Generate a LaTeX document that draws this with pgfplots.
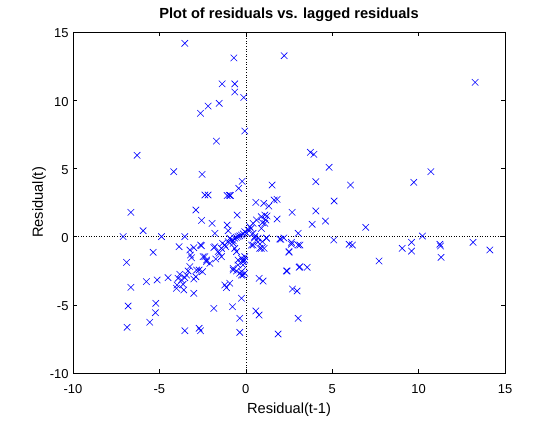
\documentclass[border=0pt]{standalone}
\usepackage{pgfplots}
\pgfplotsset{compat=1.18}
\usepackage{fontspec}
\setmainfont{Liberation Sans}
\begin{document}
\begin{tikzpicture}[x=1bp,y=1bp]
\useasboundingbox (0,0) rectangle (560,420);
\begin{axis}[
  at={(73bp,47bp)}, anchor=south west,
  scale only axis, width=432bp, height=341bp,
  xmin=-10, xmax=15, ymin=-10, ymax=15,
  xtick={-10,-5,0,5,10,15}, ytick={-10,-5,0,5,10,15},
  tick align=inside, major tick length=4bp,
  xtick pos=both, ytick pos=both,
  axis line style={line width=0.6pt},
  every tick/.style={black, line width=0.5pt},
  /pgf/number format/assume math mode=true,
  ticklabel style={font=\fontsize{13}{15}\selectfont},
  xticklabel style={anchor=base, yshift=-20.5bp},
  yticklabel style={xshift=-1bp, yshift=-1.5bp},
  title={\fontsize{14.7}{17}\selectfont\bfseries Plot of residuals vs. lagged residuals},
  title style={at={([yshift=8bp]axis description cs:0.5,1)}, anchor=base},
  xlabel={\fontsize{14.7}{17}\selectfont Residual(t-1)},
  ylabel={\fontsize{14.7}{17}\selectfont Residual(t)},
  xlabel style={at={([yshift=-40bp]axis description cs:0.5,0)}, anchor=base},
  ylabel style={at={([xshift=-34bp]axis description cs:0,0.5)}, anchor=center},
]
\addplot[black, dotted, line width=0.6pt] coordinates {(0,-10) (0,15)};
\addplot[black, dotted, line width=0.6pt] coordinates {(-10,0) (15,0)};
\addplot[only marks, mark=x, mark size=4.6bp, color=blue, mark options={line width=0.6pt}] table {
x y
-3.53 14.17
-0.69 13.1
-1.37 11.2
-0.64 11.2
-0.64 10.6
-0.12 10.2
-1.54 9.77
-2.18 9.57
-2.62 9.04
-0.06 7.74
-1.70 7.0
2.22 13.26
13.27 11.31
-6.29 5.96
-4.17 4.76
-2.53 4.56
-0.21 4.05
-0.41 3.54
-2.37 3.05
-2.18 3.05
-1.08 3.01
-0.95 3.03
-0.89 3.01
-6.65 1.78
-2.89 1.95
-2.56 1.19
-1.95 0.97
-0.5 1.58
-1.08 0.85
-1.02 0.43
-5.94 0.43
-1.79 0.24
-7.1 0
-4.88 0
-3.53 0
3.74 6.18
3.94 6.03
4.82 5.08
10.71 4.76
9.72 3.98
1.52 3.78
4.05 4.03
6.06 3.78
5.11 2.61
0.58 2.51
1.04 2.44
1.33 2.24
1.64 2.68
1.81 2.73
2.68 1.78
4.05 1.88
4.61 1.14
3.84 0.9
1.81 1.29
1.23 1.51
1.16 1.22
0.96 1.02
6.94 0.68
3.03 0.24
10.22 0.04
-2.62 -0.62
-1.79 -0.74
-2.47 -1.47
-2.27 -1.72
-2.85 -2.45
2.03 -0.2
2.2 -0.1
2.5 -1.1
2.64 -0.56
3.13 -0.62
2.35 -2.52
3.13 -2.2
1.2 -0.1
1.06 -0.86
0.96 -0.37
0.42 -0.62
0.81 -0.86
-0.06 -1.47
-0.06 -1.72
-0.16 -2.08
-0.45 -1.72
-0.73 -2.45
-0.54 -2.52
-0.25 -2.57
-0.06 -2.69
-1.6 -1.1
-1.41 -0.86
-1.22 -0.62
-1.02 -0.37
-0.83 -0.25
-0.64 -0.12
-0.45 0
-0.25 0.12
-0.06 0.36
0.13 0.48
0.23 0.73
0.42 0.97
0.62 1.22
0.9 1.46
1.1 1.58
-0.92 -0.12
-0.73 -0.3
-0.55 -0.05
-0.35 0.05
-0.15 0.2
0.05 0.25
0.3 0.6
0.52 0
0.71 -0.12
0.42 0.24
0.9 0.6
1.1 0.97
-0.45 -2.08
-5.36 -1.15
-6.9 -1.89
-3.86 -0.74
-3.24 -0.98
-3.01 -0.81
-2.56 -0.67
-3.2 -1.35
-3.14 -1.55
-1.85 -0.81
-1.35 -0.49
-1.16 -0.74
-1.55 -1.22
-1.41 -1.47
-2.37 -1.47
-2.27 -1.84
-2.08 -1.96
-1.74 -1.64
-0.73 -0.49
-0.64 -0.86
-0.54 -1.1
-0.25 -1.59
-0.16 -1.84
-0.73 -2.33
-0.35 -2.69
-0.16 -2.82
-3.24 -2.2
-2.7 -2.45
-2.51 -2.57
-3.34 -2.52
-3.43 -2.82
-3.53 -3.01
-3.82 -2.76
-3.92 -3.06
-3.72 -3.18
-2.89 -2.94
-3.01 -3.11
-3.98 -3.55
-3.63 -3.5
-4.01 -3.79
-3.59 -3.91
-4.5 -3.01
-5.13 -3.18
-5.75 -3.3
-6.65 -3.72
-3.01 -4.16
-1.22 -3.55
-1.12 -3.74
-0.93 -3.42
-0.25 -4.52
-1.85 -5.26
-0.77 -5.14
-0.35 -5.99
-6.81 -5.09
-5.21 -4.89
-5.23 -5.58
-5.56 -6.28
-6.87 -6.65
-3.53 -6.9
-2.7 -6.72
-2.62 -6.9
-0.35 -7.02
1.97 -0.18
2.64 -0.42
3.03 -0.62
2.5 -1.15
5.09 -0.25
5.98 -0.56
6.17 -0.62
7.71 -1.79
9.05 -0.86
9.59 -0.42
9.59 -1.06
11.23 -0.56
11.27 -0.69
11.3 -1.52
13.15 -0.42
14.12 -0.98
2.39 -2.52
3.09 -2.25
3.55 -2.25
0.77 -3.06
1.0 -3.26
2.7 -3.84
2.97 -3.99
0.58 -5.45
0.77 -5.75
3.03 -5.99
1.87 -7.14
0.33 -0.62
0.9 -0.86
1.2 -0.12
0.5 -0.1
0.7 -0.4
-0.16 -1.72
-0.25 -2.82
};
\end{axis}
\end{tikzpicture}
\end{document}
